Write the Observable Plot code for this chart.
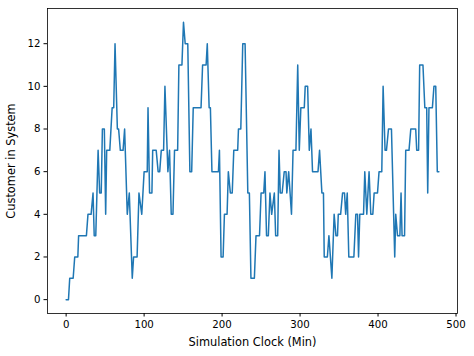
<!DOCTYPE html>
<html>
<head>
<meta charset="utf-8">
<script src="https://cdn.jsdelivr.net/npm/d3@7"></script>
<script src="https://cdn.jsdelivr.net/npm/@observablehq/plot@0.6"></script>
<style>
  html, body { margin: 0; padding: 0; background: #fff; }
</style>
</head>
<body>
<div id="chart"></div>
<script>
const clockMin = [0, 3, 4.6, 9, 11, 15, 16, 26, 28, 32, 34.5, 36, 38, 41, 43, 45, 46.5, 49, 50.7, 52, 56, 59, 61, 62.7, 65.7, 67.3, 69.5, 73, 75, 78.4, 81, 84.8, 86.5, 91, 93.4, 97, 100, 104, 105, 107, 110, 111, 115.5, 118, 120, 122, 125, 126.7, 130.5, 132.6, 134.8, 137, 139, 143, 144.6, 148.5, 150.5, 152.7, 156, 158.7, 161, 163, 173, 175, 179.5, 181, 183.4, 185, 187, 195.3, 196.6, 198.7, 201.3, 203, 206.4, 208, 210.6, 213, 215, 220, 221, 224, 226.5, 229.5, 233, 235, 237, 241.4, 243.5, 248, 250, 253.4, 255, 257, 259.3, 261.4, 263.6, 267, 268.7, 271.3, 273, 274.6, 277, 279.7, 282, 283, 285.4, 289, 291, 294.7, 297, 299, 301, 305.4, 306.6, 309.7, 311.8, 314, 316, 323, 325, 328, 330, 331, 335, 337, 340.8, 343.7, 346, 348, 349, 352, 354.5, 357, 358.5, 360.5, 362.5, 369, 371.5, 373.7, 375, 376.6, 381.4, 383, 385.6, 388.5, 390.7, 393.3, 395, 399.3, 401.3, 404.8, 406.5, 409, 410.8, 413.4, 417.2, 421.4, 422.7, 425, 428, 429.5, 430.8, 434, 435.5, 439.7, 442, 448.3, 449.6, 452, 453.4, 457.6, 460, 462.4, 463.7, 465.3, 469.7, 471.7, 474, 476, 478];
const customers = [0, 0, 1, 1, 2, 2, 3, 3, 4, 4, 5, 3, 3, 7, 5, 5, 8, 8, 4, 7, 7, 9, 9, 12, 8, 8, 7, 7, 8, 4, 5, 1, 2, 2, 5, 4, 6, 6, 9, 5, 5, 7, 7, 6, 6, 7, 7, 10, 6, 7, 4, 4, 7, 7, 11, 11, 13, 12, 12, 6, 6, 9, 9, 11, 11, 12, 9, 9, 6, 6, 7, 2, 2, 4, 4, 6, 5, 5, 7, 7, 8, 8, 12, 12, 5, 5, 1, 1, 3, 3, 5, 5, 6, 3, 3, 5, 4, 5, 3, 3, 7, 5, 5, 6, 6, 5, 6, 4, 7, 7, 11, 7, 9, 9, 10, 10, 7, 8, 6, 6, 7, 5, 5, 2, 2, 3, 1, 4, 3, 3, 4, 4, 5, 5, 4, 5, 2, 2, 4, 4, 2, 4, 4, 6, 4, 6, 4, 4, 5, 5, 6, 6, 10, 7, 7, 8, 8, 2, 4, 3, 3, 5, 3, 3, 7, 7, 8, 8, 7, 7, 11, 11, 9, 9, 5, 9, 9, 10, 10, 6, 6];
const xTicks = [0, 100, 200, 300, 400, 500];
const yTicks = [0, 2, 4, 6, 8, 10, 12];

const data = clockMin.map((t, i) => ({t, n: customers[i]}));

const chart = Plot.plot({
  width: 474,
  height: 356,
  marginLeft: 47,
  marginRight: 17,
  marginTop: 8,
  marginBottom: 43,
  style: {fontFamily: "DejaVu Sans", fontSize: "10px", color: "#000", background: "#fff"},
  x: {domain: [-23.9, 501.9]},
  y: {domain: [-0.65, 13.65]},
  marks: [
    Plot.frame({stroke: "#000", strokeWidth: 0.8}),
    Plot.axisX({ticks: xTicks, tickSize: 3.5, tickPadding: 3.5, tickFormat: d3.format("d"), label: null, fontSize: 10.2}),
    Plot.axisX({ticks: [], tickSize: 0, label: "Simulation Clock (Min)", labelAnchor: "center", labelArrow: "none", labelOffset: 32.5, fontSize: 11.4}),
    Plot.axisY({ticks: yTicks, tickSize: 3.5, tickPadding: 3.5, tickFormat: d3.format("d"), label: null, fontSize: 10.2}),
    Plot.axisY({ticks: [], tickSize: 0, label: "Customer in System", labelAnchor: "center", labelArrow: "none", labelOffset: 40.5, fontSize: 11.4}),
    Plot.line(data, {x: "t", y: "n", stroke: "#1f77b4", strokeWidth: 1.5})
  ]
});
document.getElementById("chart").appendChild(chart);
</script>
</body>
</html>
